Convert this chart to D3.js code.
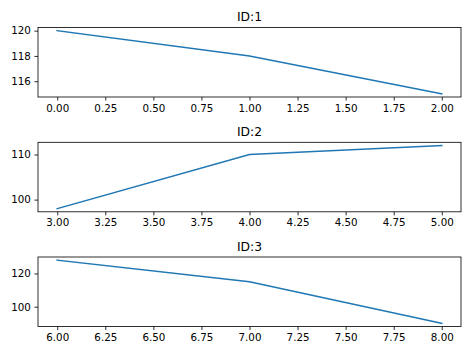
<!DOCTYPE html>
<html><head><meta charset="utf-8">
<script src="https://cdn.jsdelivr.net/npm/d3@7"></script>
<style>
body{margin:0;background:#fff;}
svg{display:block;}
text{font-family:"DejaVu Sans",sans-serif;fill:#000;}
</style></head>
<body>
<script>
const titles = ["ID:1", "ID:2", "ID:3"];
const xs1 = [0, 1, 2];
const ys1 = [120, 118, 115];
const xs2 = [3, 4, 5];
const ys2 = [98, 110, 112];
const xs3 = [6, 7, 8];
const ys3 = [128, 115, 90];
const xTicks1 = [0, 0.25, 0.5, 0.75, 1, 1.25, 1.5, 1.75, 2];
const xTicks2 = [3, 3.25, 3.5, 3.75, 4, 4.25, 4.5, 4.75, 5];
const xTicks3 = [6, 6.25, 6.5, 6.75, 7, 7.25, 7.5, 7.75, 8];
const yTicks1 = [116, 118, 120];
const yTicks2 = [100, 110];
const yTicks3 = [100, 120];

const W = 474, H = 355;
const svg = d3.select("body").append("svg").attr("width", W).attr("height", H);

const panels = [
  {title: titles[0], xs: xs1, ys: ys1, xt: xTicks1, yt: yTicks1, top: 27.5},
  {title: titles[1], xs: xs2, ys: ys2, xt: xTicks2, yt: yTicks2, top: 142.3},
  {title: titles[2], xs: xs3, ys: ys3, xt: xTicks3, yt: yTicks3, top: 257.0}
];
const left = 38, right = 461, ph = 69.5;

function padded(ext) {
  const d = (ext[1] - ext[0]) * 0.05;
  return [ext[0] - d, ext[1] + d];
}

panels.forEach(p => {
  const x = d3.scaleLinear().domain(padded(d3.extent(p.xs))).range([left, right]);
  const y = d3.scaleLinear().domain(padded(d3.extent(p.ys))).range([p.top + ph, p.top]);
  const g = svg.append("g");

  const line = d3.line().x((d, i) => x(p.xs[i])).y(d => y(d));
  g.append("path").datum(p.ys).attr("d", line)
    .attr("fill", "none").attr("stroke", "#1f77b4").attr("stroke-width", 1.54)
    .attr("stroke-linecap", "square");

  const xa = g.append("g").attr("transform", `translate(0,${p.top + ph})`)
    .call(d3.axisBottom(x).tickValues(p.xt).tickFormat(d3.format(".2f")).tickSizeOuter(0).tickSize(3.6).tickPadding(3.6));
  const ya = g.append("g").attr("transform", `translate(${left},0)`)
    .call(d3.axisLeft(y).tickValues(p.yt).tickFormat(d3.format("d")).tickSizeOuter(0).tickSize(3.6).tickPadding(3.6));
  [xa, ya].forEach(a => {
    a.select(".domain").remove();
    a.selectAll("line").attr("stroke", "#000").attr("stroke-width", 0.82);
    a.selectAll("text").attr("font-size", "10.3px").attr("font-family", "DejaVu Sans").attr("fill", "#000");
  });

  g.append("rect").attr("x", left).attr("y", p.top).attr("width", right - left).attr("height", ph)
    .attr("fill", "none").attr("stroke", "#000").attr("stroke-width", 0.82);

  g.append("text").attr("x", (left + right) / 2).attr("y", p.top - 6.2)
    .attr("text-anchor", "middle").attr("font-size", "12.3px").text(p.title);
});
</script>
</body></html>
